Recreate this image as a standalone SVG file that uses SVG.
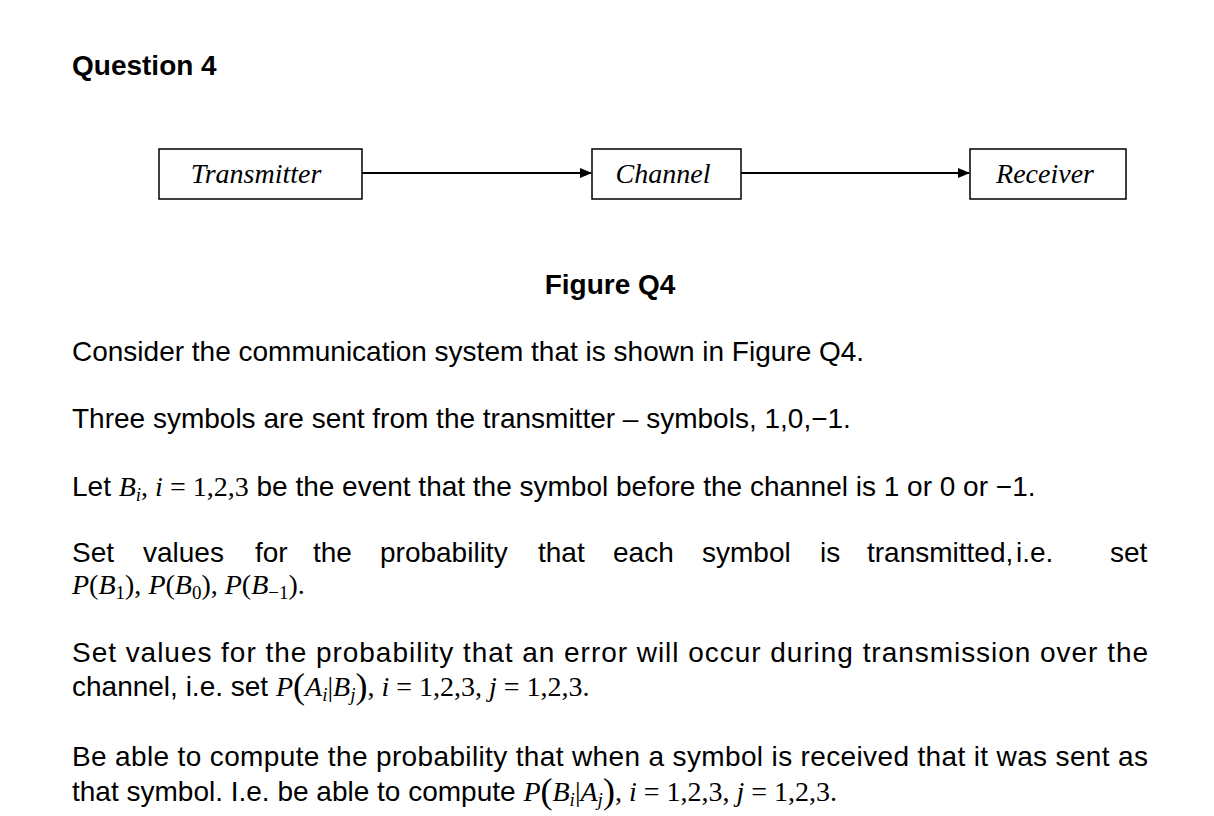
<svg xmlns="http://www.w3.org/2000/svg" width="1214" height="816" viewBox="0 0 1214 816">
<style>
.t{font-family:"Liberation Sans",Arial,sans-serif;font-size:28px;fill:#000}
.m{font-family:"Liberation Serif","Times New Roman",serif;font-size:28px;fill:#000}
.i{font-style:italic}
.b{font-weight:bold}
.box{fill:#fff;stroke:#000;stroke-width:1.5}
.lbl{font-family:"Liberation Serif",serif;font-style:italic;font-size:28px;text-anchor:middle}
.s{font-size:19px}
.p{font-size:36px}
</style>
<defs><marker id="ah" markerWidth="12" markerHeight="10" refX="11" refY="5" orient="auto" markerUnits="userSpaceOnUse"><path d="M0,0 L12,5 L0,10 Z" fill="#000"/></marker></defs>
<rect width="1214" height="816" fill="#fff"/>
<text class="t b" x="72" y="75">Question 4</text>
<g id="transmitter"><rect class="box" x="159" y="149" width="203" height="50"/><text class="lbl" x="256" y="183">Transmitter</text></g>
<g id="channel"><rect class="box" x="592" y="149" width="149" height="50"/><text class="lbl" x="663" y="183">Channel</text></g>
<g id="receiver"><rect class="box" x="970" y="149" width="156" height="50"/><text class="lbl" x="1045" y="183">Receiver</text></g>
<g id="connectors" stroke="#000" stroke-width="2">
<line x1="362" y1="173" x2="591" y2="173" marker-end="url(#ah)"/>
<line x1="741" y1="173" x2="969" y2="173" marker-end="url(#ah)"/>
</g>
<text class="t b" x="610" y="294" text-anchor="middle">Figure Q4</text>
<text class="t" x="72" y="361">Consider the communication system that is shown in Figure Q4.</text>
<text class="t" x="72" y="428">Three symbols are sent from the transmitter – symbols, 1,0,−1.</text>
<text class="t" x="72" y="496">Let <tspan class="m i">B</tspan><tspan class="m i s" dy="5">i</tspan><tspan class="m" dy="-5">, </tspan><tspan class="m i">i</tspan><tspan class="m"> = 1,2,3</tspan> be the event that the symbol before the channel is 1 or 0 or −1.</text>
<text class="t" y="562"><tspan x="72">Set</tspan><tspan x="143">values</tspan><tspan x="255">for</tspan><tspan x="313">the</tspan><tspan x="380">probability</tspan><tspan x="538">that</tspan><tspan x="613">each</tspan><tspan x="702">symbol</tspan><tspan x="820">is</tspan><tspan x="867">transmitted,</tspan><tspan x="1016">i.e.</tspan><tspan x="1110">set</tspan></text>
<text class="m" x="72" y="594"><tspan class="i">P</tspan>(<tspan class="i">B</tspan><tspan class="s" dy="5">1</tspan><tspan dy="-5">), </tspan><tspan class="i">P</tspan>(<tspan class="i">B</tspan><tspan class="s" dy="5">0</tspan><tspan dy="-5">), </tspan><tspan class="i">P</tspan>(<tspan class="i">B</tspan><tspan class="s" dy="5">−1</tspan><tspan dy="-5">).</tspan></text>
<text class="t" x="72" y="662" textLength="1076" lengthAdjust="spacing">Set values for the probability that an error will occur during transmission over the</text>
<text class="t" x="72" y="696">channel, i.e. set <tspan class="m i">P</tspan><tspan class="m p" dy="2">(</tspan><tspan class="m i" dy="-2">A</tspan><tspan class="m i s" dy="5">i</tspan><tspan class="m" dy="-5">|</tspan><tspan class="m i">B</tspan><tspan class="m i s" dy="5">j</tspan><tspan class="m p" dy="-3">)</tspan><tspan class="m" dy="-2">, </tspan><tspan class="m i">i</tspan><tspan class="m"> = 1,2,3, </tspan><tspan class="m i">j</tspan><tspan class="m"> = 1,2,3.</tspan></text>
<text class="t" x="72" y="766" textLength="1076" lengthAdjust="spacing">Be able to compute the probability that when a symbol is received that it was sent as</text>
<text class="t" x="72" y="801">that symbol.  I.e. be able to compute <tspan class="m i">P</tspan><tspan class="m p" dy="2">(</tspan><tspan class="m i" dy="-2">B</tspan><tspan class="m i s" dy="5">i</tspan><tspan class="m" dy="-5">|</tspan><tspan class="m i">A</tspan><tspan class="m i s" dy="5">j</tspan><tspan class="m p" dy="-3">)</tspan><tspan class="m" dy="-2">, </tspan><tspan class="m i">i</tspan><tspan class="m"> = 1,2,3, </tspan><tspan class="m i">j</tspan><tspan class="m"> = 1,2,3.</tspan></text>
</svg>
